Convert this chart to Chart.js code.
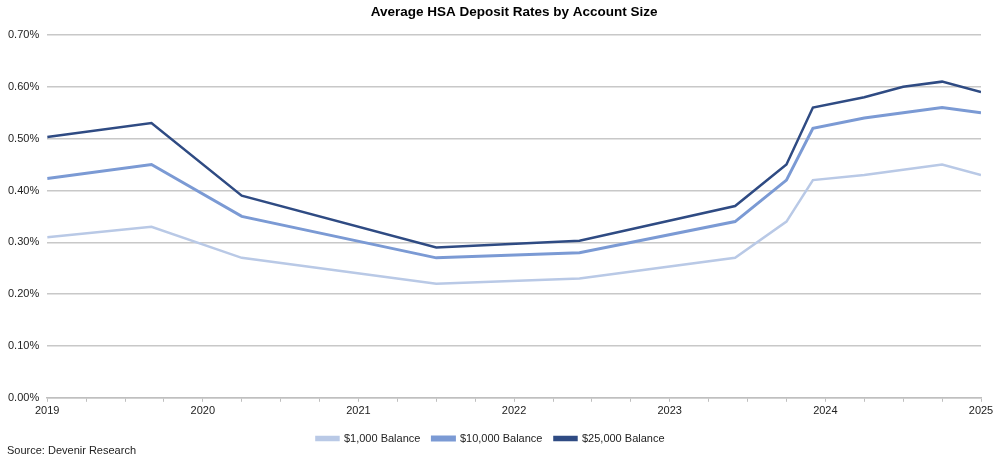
<!DOCTYPE html>
<html>
<head>
<meta charset="utf-8">
<script src="https://cdn.jsdelivr.net/npm/chart.js@4.4.1/dist/chart.umd.min.js"></script>
<style>
  html, body { margin: 0; padding: 0; background: #fff; }
  #wrap { position: relative; width: 1000px; height: 457px; }
</style>
</head>
<body>
<div id="wrap"><canvas id="chart" width="1000" height="457"></canvas></div>
<script>
// ============================================================
// DATA
// ============================================================

const chartTitle = "Average HSA Deposit Rates by Account Size";
const sourceNote = "Source: Devenir Research";

// observation dates as decimal years
const obsDates = [2019.0, 2019.67, 2020.25, 2021.5, 2022.42, 2023.42, 2023.75, 2023.92, 2024.25, 2024.5, 2024.75, 2025.0];

const seriesNames = ["$1,000 Balance", "$10,000 Balance", "$25,000 Balance"];
const bal1k  = [0.31, 0.33, 0.27, 0.22, 0.23, 0.27, 0.34, 0.42, 0.43, 0.44, 0.45, 0.43];
const bal10k = [0.423, 0.45, 0.35, 0.27, 0.28, 0.34, 0.42, 0.52, 0.54, 0.55, 0.56, 0.55];
const bal25k = [0.503, 0.53, 0.39, 0.29, 0.303, 0.37, 0.45, 0.56, 0.58, 0.60, 0.61, 0.59];

const seriesColors = ["#b9c9e6", "#7b9ad4", "#2f4b83"];
const seriesWidths = [2.5, 3, 2.5];

// ============================================================
// HELPERS
// ============================================================

function toPoints(values) {
  return values.map((v, i) => ({ x: obsDates[i], y: v }));
}

const FONT = "'Liberation Sans', Arial, sans-serif";

const textPlugin = {
  id: "textPlugin",
  afterDraw(chart) {
    const ctx = chart.ctx;
    const area = chart.chartArea;
    ctx.save();
    ctx.fillStyle = "#000";
    ctx.textAlign = "center";
    ctx.textBaseline = "middle";
    ctx.font = "bold 13.5px " + FONT;
    ctx.fillText(chartTitle, (area.left + area.right) / 2, 12);
    ctx.textAlign = "left";
    ctx.font = "11px " + FONT;
    ctx.fillStyle = "#222";
    ctx.fillText(sourceNote, 7, 451);
    ctx.restore();
  }
};

// ============================================================
// CHART
// ============================================================

const datasets = [bal1k, bal10k, bal25k].map((vals, i) => ({
  label: seriesNames[i],
  data: toPoints(vals),
  borderColor: seriesColors[i],
  backgroundColor: seriesColors[i],
  borderWidth: seriesWidths[i],
  pointRadius: 0,
  tension: 0
}));

new Chart(document.getElementById("chart").getContext("2d"), {
  type: "line",
  data: { datasets },
  plugins: [textPlugin],
  options: {
    responsive: false,
    animation: false,
    layout: { padding: { top: 35, left: 0, right: 19, bottom: 3 } },
    plugins: {
      title: { display: false },
      tooltip: { enabled: false },
      legend: {
        position: "bottom",
        labels: {
          boxWidth: 22,
          boxHeight: 3,
          padding: 12,
          color: "#222",
          font: { family: FONT, size: 11 }
        }
      }
    },
    scales: {
      x: {
        type: "linear",
        min: 2019,
        max: 2025,
        border: { color: "#bfbfbf", width: 1.5 },
        grid: { drawOnChartArea: false, drawTicks: true, tickLength: 4, color: "#bfbfbf" },
        ticks: {
          stepSize: 0.25,
          autoSkip: false,
          maxRotation: 0,
          padding: 3,
          color: "#222",
          font: { family: FONT, size: 11 },
          callback: (v) => (Number.isInteger(v) ? String(v) : "")
        }
      },
      y: {
        min: 0,
        max: 0.7,
        border: { display: false },
        grid: { color: "#c8c8c8", lineWidth: 1.5, drawTicks: false },
        ticks: {
          stepSize: 0.1,
          padding: 8,
          color: "#222",
          font: { family: FONT, size: 11 },
          callback: (v) => v.toFixed(2) + "%"
        }
      }
    }
  }
});
</script>
</body>
</html>
